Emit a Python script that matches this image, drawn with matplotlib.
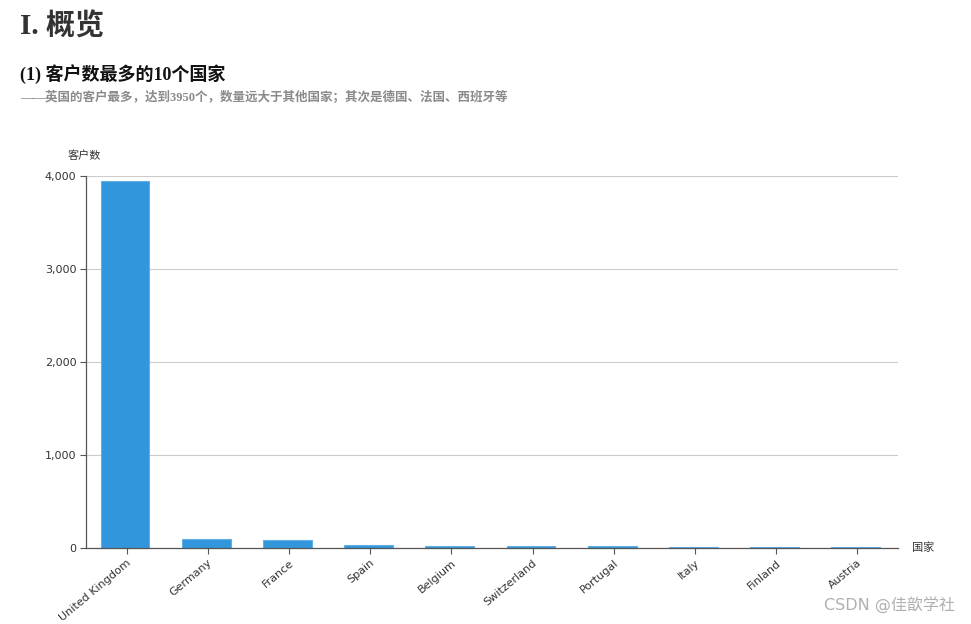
import matplotlib
matplotlib.use("Agg")
import matplotlib.pyplot as plt
import numpy as np

countries = ["United Kingdom", "Germany", "France", "Spain", "Belgium",
             "Switzerland", "Portugal", "Italy", "Finland", "Austria"]
customers = [3950, 95, 87, 31, 25, 21, 19, 15, 12, 11]
y_ticks = [0, 1000, 2000, 3000, 4000]

SANS = ["DejaVu Sans", "Noto Sans CJK SC"]
SERIF = ["Liberation Serif", "Noto Sans CJK SC"]
TEXT = "#333333"

fig = plt.figure(figsize=(9.71, 6.24), dpi=100)
ax = fig.add_axes([86 / 971, 1 - 548 / 624, (898 - 86) / 971, (548 - 176) / 624])

x = np.arange(len(countries))
ax.bar(x - 0.02, customers, width=0.6, color="#3296dc", edgecolor="#62b0e6",
       linewidth=0.8, zorder=3, clip_on=False)

ax.set_xlim(-0.5, len(countries) - 0.5)
ax.set_ylim(0, 4000)
ax.set_yticks(y_ticks)
ax.set_yticklabels([f"{v:,}" for v in y_ticks], fontsize=8, color=TEXT, family=SANS)
ax.set_xticks(x)
ax.set_xticklabels(countries, rotation=40, ha="right", rotation_mode="anchor",
                   fontsize=8, color=TEXT, family=SANS)
ax.tick_params(axis="both", length=4, width=0.8, color="#555555", pad=3)
ax.grid(axis="y", color="#cccccc", linewidth=0.8, zorder=0)
for side in ("top", "right"):
    ax.spines[side].set_visible(False)
for side in ("left", "bottom"):
    ax.spines[side].set_color("#555555")
    ax.spines[side].set_linewidth(0.9)
    ax.spines[side].set_zorder(4)

# axis names sit at the ends of the axes
fig.text(84 / 971, 1 - 156 / 624, "客户数", ha="center", va="center",
         fontsize=8, color=TEXT, family=SANS)
fig.text(912 / 971, 1 - 548 / 624, "国家", ha="left", va="center",
         fontsize=8, color=TEXT, family=SANS)

fig.text(20 / 971, 1 - 27 / 624, "I. 概览", ha="left", va="center",
         fontsize=21, fontweight="bold", color=TEXT, family=SERIF)
fig.text(20 / 971, 1 - 74 / 624, "(1) 客户数最多的10个国家", ha="left", va="center",
         fontsize=13, fontweight="bold", color="#111111", family=SERIF)
fig.text(20 / 971, 1 - 97 / 624,
         "——英国的客户最多，达到3950个，数量远大于其他国家；其次是德国、法国、西班牙等",
         ha="left", va="center", fontsize=9, fontweight="bold", color="#8a8a8a", family=SERIF)

fig.text(955 / 971, 1 - 606 / 624, "CSDN @佳歆学社", ha="right", va="center",
         fontsize=11.5, color="#b0b0b0", family=SANS)

fig.savefig("out.png", dpi=100)
